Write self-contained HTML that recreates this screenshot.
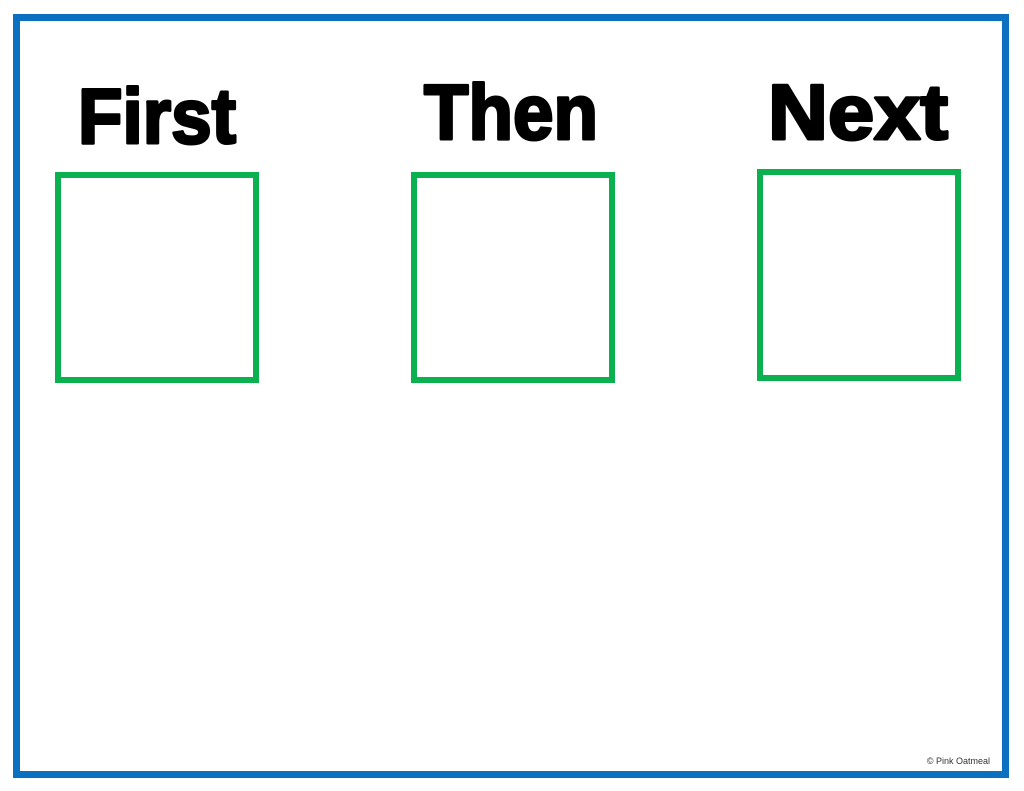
<!DOCTYPE html>
<html><head><meta charset="utf-8"><style>
html,body{margin:0;padding:0;background:#fff;width:1024px;height:791px;overflow:hidden}
</style></head><body>
<svg width="1024" height="791" viewBox="0 0 1024 791" xmlns="http://www.w3.org/2000/svg">
<rect x="0" y="0" width="1024" height="791" fill="#fff"/>
<rect x="16.5" y="17.5" width="989" height="757" fill="none" stroke="#0b70c0" stroke-width="7"/>
<g fill="none" stroke="#0bb04f" stroke-width="6">
<rect x="58" y="175" width="198" height="205"/>
<rect x="414" y="175" width="198" height="205"/>
<rect x="760" y="172" width="198" height="206"/>
</g>
<g font-family="Liberation Sans, sans-serif" font-weight="bold" font-size="78" fill="#000" stroke="#000" stroke-width="3" stroke-linejoin="round">
<text x="78" y="143" textLength="158" lengthAdjust="spacingAndGlyphs">First</text>
<text x="424" y="139" textLength="174" lengthAdjust="spacingAndGlyphs">Then</text>
<text x="768" y="139" textLength="180" lengthAdjust="spacingAndGlyphs">Next</text>
</g>
<text x="990" y="764" text-anchor="end" font-family="Liberation Sans, sans-serif" font-size="9" fill="#333">© Pink Oatmeal</text>
</svg>
</body></html>
